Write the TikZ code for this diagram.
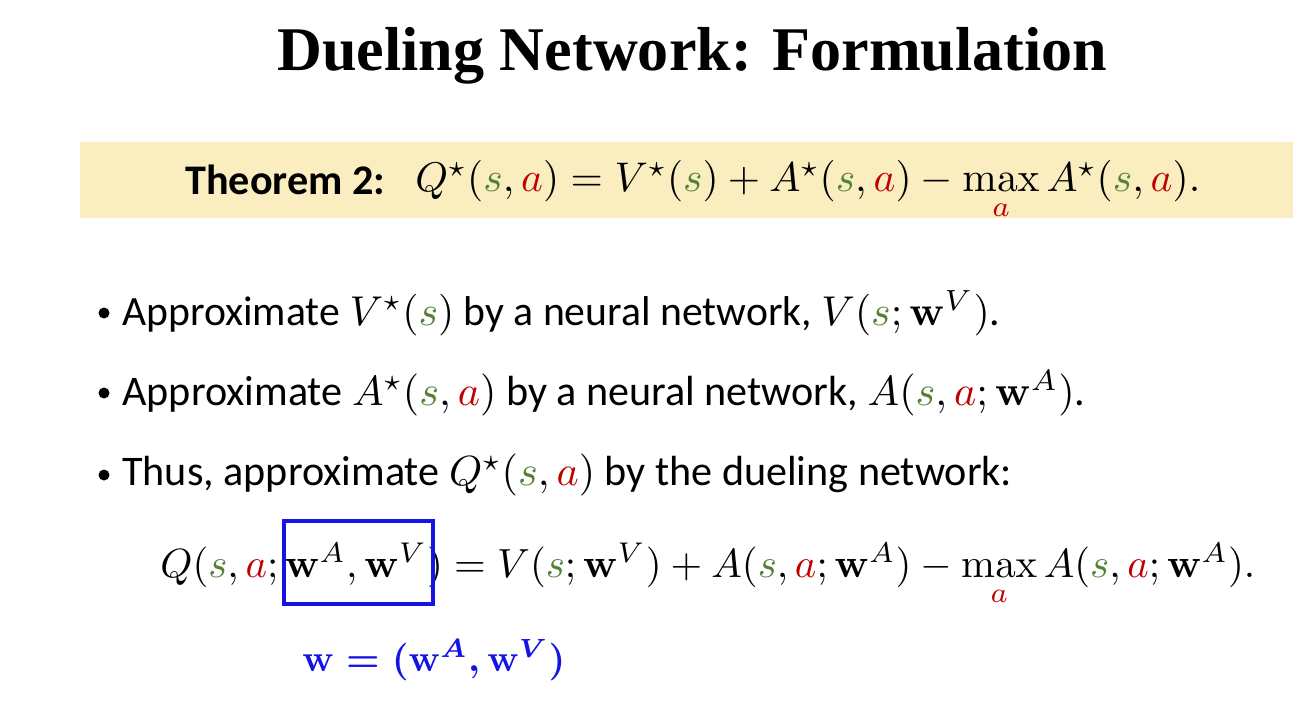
\documentclass[tikz,border=0pt]{standalone}
\usepackage{amsmath}
\usepackage[no-math]{fontspec}
\setmainfont{Carlito}
\newfontfamily\titlefont{Liberation Serif}
\definecolor{sg}{RGB}{84,130,53}
\definecolor{ar}{RGB}{192,0,0}
\definecolor{band}{RGB}{250,238,192}
\definecolor{bl}{RGB}{20,20,230}
\newcommand{\Sv}{{\color{sg}s}}
\newcommand{\Av}{{\color{ar}a}}
\begin{document}
\begin{tikzpicture}[x=0.02cm,y=-0.02cm,
  txt/.style={anchor=west,inner sep=0pt}]
\useasboundingbox (0,0) rectangle (1293,717);
\fill[white] (0,0) rectangle (1293,717);
\fill[band] (80,142) rectangle (1293,218);
\node[txt] (title) at (277,56) {\resizebox{16.6cm}{!}{\titlefont\bfseries Dueling Network: Formulation}};
\node[txt] (thm) at (185,180) {\resizebox{4cm}{!}{\bfseries Theorem 2:}};
\node[txt,anchor=north west] (eq1) at (415,160) {\resizebox{15.7cm}{!}{$Q^\star(\Sv,\Av)=V^\star(\Sv)+A^\star(\Sv,\Av)-\max\limits_{\Av}A^\star(\Sv,\Av).$}};
\foreach \y in {313,393,475} \fill (104,\y) circle (5.5);
\node[txt] (b1) at (122,313) {\resizebox{17.56cm}{!}{Approximate $V^\star(\Sv)$ by a neural network, $V(\Sv;\mathbf{w}^V)$.}};
\node[txt] (b2) at (122,393) {\resizebox{19.26cm}{!}{Approximate $A^\star(\Sv,\Av)$ by a neural network, $A(\Sv,\Av;\mathbf{w}^A)$.}};
\node[txt] (b3) at (122,475) {\resizebox{17.8cm}{!}{Thus, approximate $Q^\star(\Sv,\Av)$ by the dueling network:}};
\node[txt,anchor=north west] (eq2) at (160,543) {\resizebox{21.9cm}{!}{$Q(\Sv,\Av;\mathbf{w}^A,\mathbf{w}^V)=V(\Sv;\mathbf{w}^V)+A(\Sv,\Av;\mathbf{w}^A)-\max\limits_{\Av}A(\Sv,\Av;\mathbf{w}^A).$}};
\draw[bl,line width=4*0.02cm] (284,521) rectangle (433,604);
\node[txt] (w) at (302,660) {\resizebox{5.26cm}{!}{\color{bl}\boldmath$\mathbf{w}=(\mathbf{w}^A,\mathbf{w}^V)$}};
\end{tikzpicture}
\end{document}
